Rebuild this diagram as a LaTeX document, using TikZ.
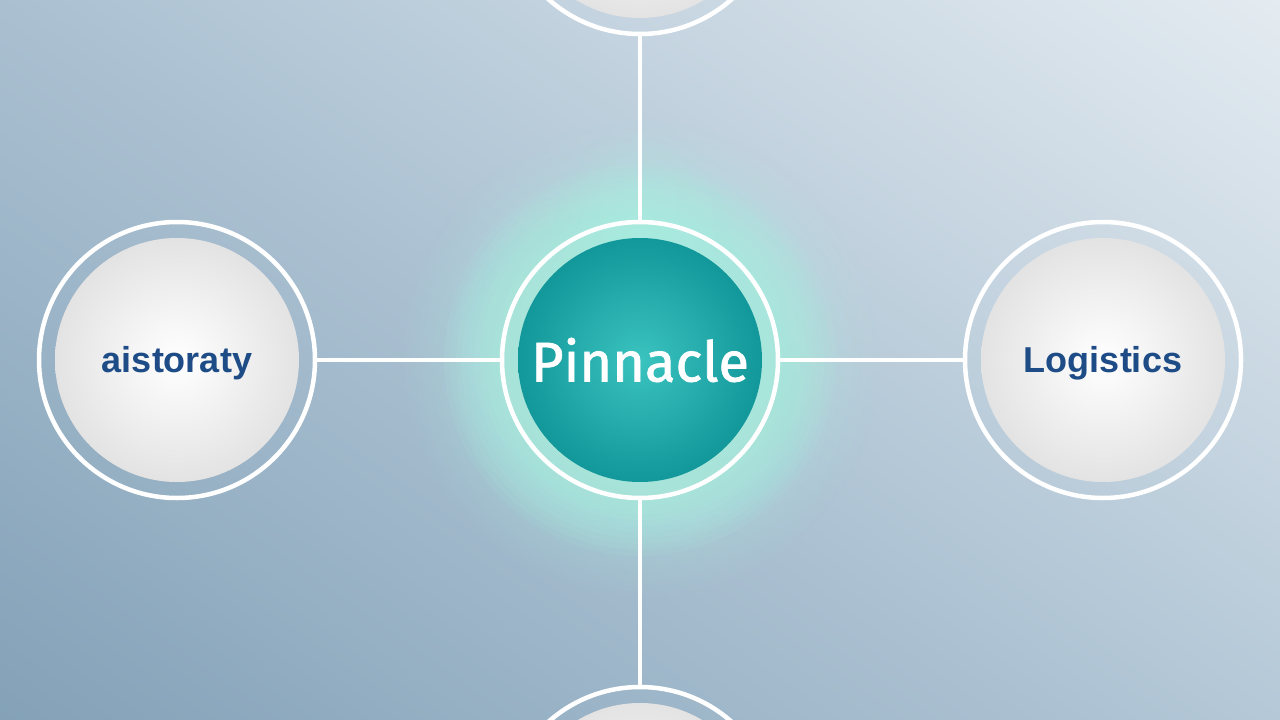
\documentclass[tikz,border=0pt]{standalone}
\usepackage{fontspec}
\setmainfont{Liberation Sans}
\newfontfamily\hubfont[FakeBold=1.3]{Fira Sans}
\usetikzlibrary{fadings,shadings}
\definecolor{bgdark}{HTML}{7C9BB3}
\definecolor{bgmid}{HTML}{AFC4D4}
\definecolor{bglight}{HTML}{EDF2F6}
\definecolor{glowc}{HTML}{A8F4E4}
\definecolor{tealin}{HTML}{3AC3BF}
\definecolor{tealout}{HTML}{12979A}
\definecolor{navy}{HTML}{1E4C86}
\tikzfading[name=glowfade, inner color=transparent!0, outer color=transparent!100]
\tikzset{
  ringnode/.style={circle, draw=white, line width=4.5pt, minimum size=276pt, inner sep=0pt},
  link/.style={draw=white, line width=4pt},
  whitedisc/.style={circle, minimum size=244pt, inner sep=0pt, shading=radial, inner color=white, outer color=black!11},
  tealdisc/.style={circle, minimum size=244pt, inner sep=0pt, shading=radial, inner color=tealin, outer color=tealout},
  sidetext/.style={text=navy, font=\bfseries\fontsize{36}{40}\selectfont},
  hubtext/.style={text=white, font=\hubfont\fontsize{56}{60}\selectfont},
}
\begin{document}
\begin{tikzpicture}[x=1pt,y=-1pt]
\useasboundingbox (0,0) rectangle (1280,720);
\clip (0,0) rectangle (1280,720);
% background
\shade[shading=axis, top color=bglight, bottom color=bgdark, middle color=bgmid, shading angle=-35]
  (-300,-300) rectangle (1580,1020);
% glow
\fill[glowc, opacity=0.8, path fading=glowfade] (640,360) circle (240);
\foreach \rr in {142,148,...,196} {
  \fill[glowc, opacity=0.09] (640,360) circle (\rr);
}
\fill[glowc, opacity=0.35, path fading=glowfade] (640,250) ellipse (90 and 130);
% rings
\node[ringnode] (c) at (640,360) {};
\node[ringnode] (l) at (177,360) {};
\node[ringnode] (r) at (1103,360) {};
\node[ringnode] (t) at (640,-104) {};
\node[ringnode] (b) at (640,825) {};
% connectors
\draw[link] (t) -- (c);
\draw[link] (c) -- (b);
\draw[link] (l) -- (c);
\draw[link] (c) -- (r);
% discs
\node[whitedisc] (ld) at (177,360) {};
\node[whitedisc] (rd) at (1103,360) {};
\node[whitedisc] (td) at (640,-104) {};
\node[whitedisc] (bd) at (640,825) {};
\node[tealdisc] (cd) at (640,360) {};
% labels
\node[sidetext, yshift=-3pt] (lt) at (ld) {aistoraty};
\node[sidetext, yshift=-3pt] (rt) at (rd) {Logistics};
\node[hubtext] (ct) at (cd) {Pinnacle};
\end{tikzpicture}
\end{document}
